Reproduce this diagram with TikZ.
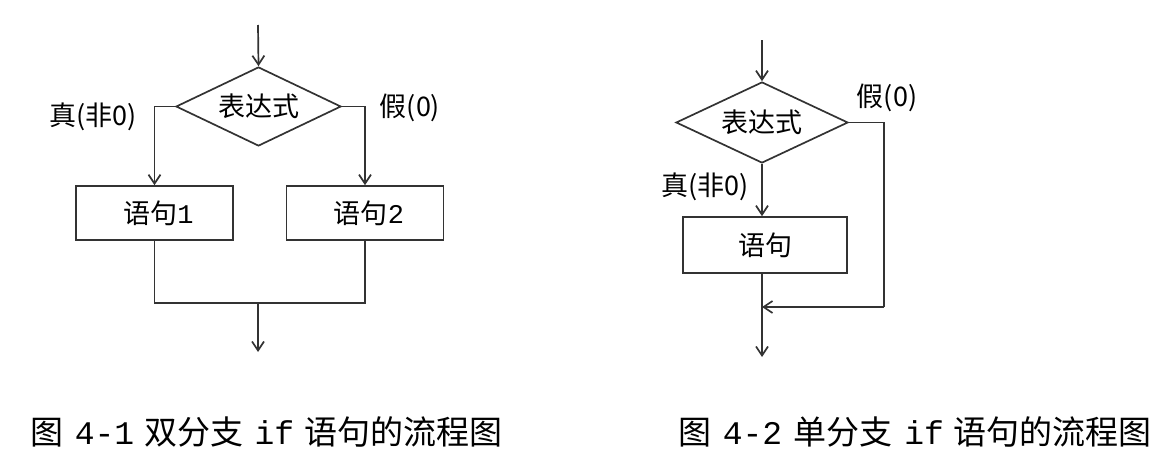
\documentclass[tikz,border=0pt]{standalone}
\usepackage{fontspec}
\setmainfont{Noto Sans CJK SC}
\newfontfamily\monofam{Liberation Mono}
\usetikzlibrary{shapes.geometric,arrows.meta}
\begin{document}
\begin{tikzpicture}[x=1pt,y=-1pt,
  line/.style={draw=black!80, line width=1.7pt},
  arr/.style={line, -{Straight Barb[length=9pt,width=12pt,line width=1.7pt]}},
  dec/.style={diamond, draw=black!80, line width=1.7pt, aspect=2.1, inner sep=0pt,
    minimum width=165pt, minimum height=79pt, font=\fontsize{27}{27}\selectfont},
  stmt/.style={rectangle, draw=black!80, line width=1.7pt, inner sep=0pt,
    minimum width=157pt, minimum height=54pt, font=\fontsize{27}{27}\selectfont},
  lbl/.style={font=\fontsize{27}{27}\selectfont},
  captxt/.style={font=\fontsize{33}{33}\selectfont, anchor=west, inner sep=0pt}]
\useasboundingbox (0,0) rectangle (1170,463);
% ---- left diagram
\coordinate (s1) at (258,25);
\node[dec] (d1) at (258.5,106.5) {表达式};
\node[stmt] (b1) at (154.5,213) {\hspace{8pt}语句{\monofam 1}};
\node[stmt] (b2) at (365,213) {\hspace{8pt}语句{\monofam 2}};
\coordinate (j1) at (258,303);
\coordinate (e1) at (258,352);
\draw[arr] (s1) -- (d1.north);
\draw[arr] (d1.west) -| (b1.north);
\draw[arr] (d1.east) -| (b2.north);
\draw[line] (b1.south) |- (j1) -| (b2.south);
\draw[arr] (j1) -- (e1);
\node[lbl] (t1) at (93,117) {真(非0)};
\node[lbl] (f1) at (410,108) {假(0)};
% ---- right diagram
\coordinate (s2) at (762,40);
\node[dec, minimum width=172pt, minimum height=81pt] (d2) at (762,122.5) {表达式};
\node[stmt, minimum width=164pt, minimum height=56pt] (b3) at (765,245) {语句};
\coordinate (e2) at (762,357);
\coordinate (r2) at (884,307);
\coordinate (k2) at (762,307);
\draw[arr] (s2) -- (d2.north);
\draw[arr] (d2.south) -- (d2.south |- b3.north);
\draw[line] (b3.south -| e2) -- (k2);
\draw[arr] (k2) -- (e2);
\draw[line] (d2.east) -| (r2);
\draw[arr] (r2) -- (k2);
\node[lbl] (f2) at (887,98) {假(0)};
\node[lbl] (t2) at (705,187) {真(非0)};
% ---- captions
\node[captxt] (c1) at (30,432) {图\hspace{0.35em}{\monofam 4-1}\hspace{0.3em}双分支\hspace{0.35em}{\monofam if}\hspace{0.3em}语句的流程图};
\node[captxt] (c2) at (678,432) {图\hspace{0.35em}{\monofam 4-2}\hspace{0.35em}单分支\hspace{0.35em}{\monofam if}\hspace{0.3em}语句的流程图};
\end{tikzpicture}
\end{document}
